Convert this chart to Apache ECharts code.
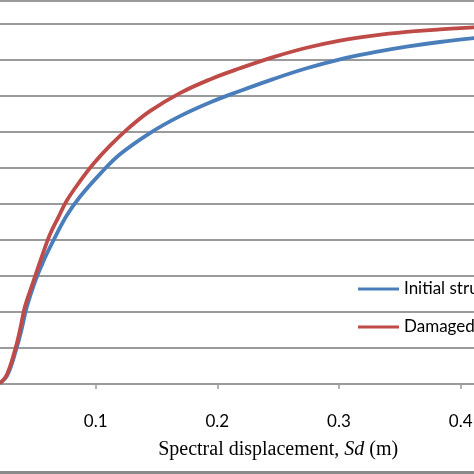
<!DOCTYPE html>
<html>
<head>
<meta charset="utf-8">
<script src="https://cdn.jsdelivr.net/npm/echarts@6/dist/echarts.min.js"></script>
<style>
html,body{margin:0;padding:0;background:#fff;}
#chart{width:474px;height:474px;}
</style>
</head>
<body>
<div id="chart"></div>
<script>
// Spectral displacement Sd (m) and probability values
const sdInitial = [0.0213,0.0275,0.0345,0.0390,0.0435,0.0501,0.0569,0.0652,0.0762,0.0871,0.1035,0.1200,0.1446,0.1693,0.1939,0.2186,0.2460,0.2734,0.3008,0.3282,0.3556,0.3830,0.4120];
const pInitial  = [0.002,0.025,0.094,0.150,0.215,0.284,0.340,0.398,0.468,0.520,0.583,0.638,0.697,0.744,0.782,0.814,0.847,0.877,0.902,0.921,0.937,0.950,0.961];
const sdDamaged = [0.0213,0.0269,0.0337,0.0378,0.0419,0.0487,0.0569,0.0624,0.0693,0.0762,0.0871,0.0980,0.1118,0.1268,0.1446,0.1693,0.1939,0.2186,0.2460,0.2734,0.3008,0.3282,0.3556,0.3830,0.4120];
const pDamaged  = [0.002,0.025,0.094,0.150,0.215,0.284,0.365,0.415,0.463,0.509,0.563,0.611,0.662,0.710,0.758,0.808,0.846,0.877,0.908,0.934,0.954,0.968,0.978,0.985,0.991];
const seriesNames = ['Initial structure','Damaged structure'];
const xTitle = 'Spectral displacement, ';
const xTitleItalic = 'Sd';
const xTitleUnit = ' (m)';

const toPairs = (xs, ys) => xs.map((x, i) => [x, ys[i]]);

const chart = echarts.init(document.getElementById('chart'), null, {renderer: 'canvas'});
const gridColor = '#9a9a9a';
const legendText = {fontFamily: 'Lato', fontSize: 17, color: '#000', lineHeight: 20};
chart.setOption({
  animation: false,
  backgroundColor: '#ffffff',
  grid: {left: -26, top: 24, width: 608.3, height: 360, containLabel: false, outerBoundsMode: 'none'},
  xAxis: {
    type: 'value', min: 0, max: 0.5, interval: 0.1,
    axisLine: {show: true, lineStyle: {color: gridColor, width: 2}},
    axisTick: {show: true, length: 5, lineStyle: {color: gridColor, width: 1.5}},
    splitLine: {show: false},
    axisLabel: {margin: 29, fontFamily: 'Lato', fontSize: 17, color: '#000',
      formatter: v => v === 0 ? '0' : v.toFixed(1)},
    name: '{a|' + xTitle + '}{b|' + xTitleItalic + '}{a|' + xTitleUnit + '}',
    nameLocation: 'middle', nameGap: 56,
    nameTextStyle: {rich: {
      a: {fontFamily: 'Liberation Serif', fontSize: 20, color: '#000'},
      b: {fontFamily: 'Liberation Serif', fontSize: 20, fontStyle: 'italic', color: '#000'}
    }}
  },
  yAxis: {
    type: 'value', min: 0, max: 1, interval: 0.1,
    axisLine: {show: false}, axisTick: {show: false},
    axisLabel: {show: false},
    splitLine: {show: true, lineStyle: {color: gridColor, width: 2}}
  },
  legend: [
    {data: [seriesNames[0]], left: 358, top: 279, padding: 0, orient: 'vertical', icon: 'rect', itemWidth: 41, itemHeight: 3, textStyle: legendText},
    {data: [seriesNames[1]], left: 358, top: 317, padding: 0, orient: 'vertical', icon: 'rect', itemWidth: 41, itemHeight: 3, textStyle: legendText}
  ],
  series: [
    {name: seriesNames[0], type: 'line', data: toPairs(sdInitial, pInitial), smooth: 0.4, showSymbol: false,
     lineStyle: {color: '#4A7EBB', width: 3.8}, itemStyle: {color: '#4A7EBB'}, z: 2},
    {name: seriesNames[1], type: 'line', data: toPairs(sdDamaged, pDamaged), smooth: 0.4, showSymbol: false,
     lineStyle: {color: '#BE4B48', width: 3.8}, itemStyle: {color: '#BE4B48'}, z: 3}
  ],
  graphic: [
    {type: 'rect', left: 0, top: 0, shape: {width: 474, height: 2}, style: {fill: '#9a9a9a'}},
    {type: 'rect', left: 0, top: 471, shape: {width: 474, height: 3}, style: {fill: '#8a8a8a'}}
  ]
});
</script>
</body>
</html>
